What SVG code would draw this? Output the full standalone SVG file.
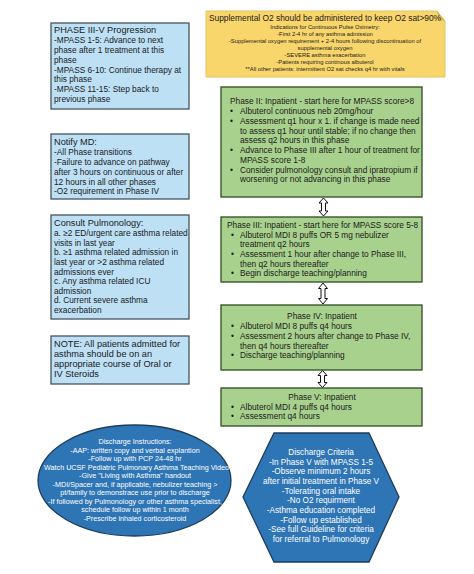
<svg xmlns="http://www.w3.org/2000/svg" width="474" height="574" viewBox="0 0 474 574">
<style>
text{font-family:"Liberation Sans",Arial,sans-serif;fill:#1a1a1a}
.lb{fill:#BDE0F5;stroke:#46555f;stroke-width:1.3}
.gb{fill:#A9D18E;stroke:#2f4a22;stroke-width:1.3}
.t9{font-size:9.2px}
.t8{font-size:8.3px}
.ty{font-size:5.8px;text-anchor:middle}
.w{fill:#ffffff;text-anchor:middle}
.c{text-anchor:middle}
.arr{fill:#ffffff;stroke:#111;stroke-width:1}
</style>
<rect width="474" height="574" fill="#ffffff"/>

<g id="progression">
<rect class="lb" x="51" y="23" width="138" height="86"/>
<text class="t9" x="54" y="33">PHASE III-V Progression</text>
<text class="t8" x="54" y="43">-MPASS 1-5: Advance to next</text>
<text class="t8" x="54" y="53">phase after 1 treatment at this</text>
<text class="t8" x="54" y="62.5">phase</text>
<text class="t8" x="54" y="72.5">-MPASS 6-10: Continue therapy at</text>
<text class="t8" x="54" y="82">this phase</text>
<text class="t8" x="54" y="92">-MPASS 11-15: Step back to</text>
<text class="t8" x="54" y="101.5">previous phase</text>
</g>

<g id="notify">
<rect class="lb" x="51" y="134" width="138" height="65"/>
<text class="t9" x="54" y="145">Notify MD:</text>
<text class="t8" x="54" y="155">-All Phase transitions</text>
<text class="t8" x="54" y="165">-Failure to advance on pathway</text>
<text class="t8" x="54" y="174.5">after 3 hours on continuous or after</text>
<text class="t8" x="54" y="184.5">12 hours in all other phases</text>
<text class="t8" x="54" y="194">-O2 requirement in Phase IV</text>
</g>

<g id="consult">
<rect class="lb" x="51" y="215" width="138" height="104"/>
<text class="t9" x="54" y="226">Consult Pulmonology:</text>
<text class="t8" x="54" y="236">a. ≥2 ED/urgent care asthma related</text>
<text class="t8" x="54" y="245.5">visits in last year</text>
<text class="t8" x="54" y="255">b. ≥1 asthma related admission in</text>
<text class="t8" x="54" y="265">last year or &gt;2 asthma related</text>
<text class="t8" x="54" y="274.5">admissions ever</text>
<text class="t8" x="54" y="284">c. Any asthma related ICU</text>
<text class="t8" x="54" y="293.5">admission</text>
<text class="t8" x="54" y="303">d. Current severe asthma</text>
<text class="t8" x="54" y="312.5">exacerbation</text>
</g>

<g id="note">
<rect class="lb" x="51" y="336" width="138" height="48"/>
<text class="t9" x="54" y="347">NOTE: All patients admitted for</text>
<text class="t9" x="54" y="357">asthma should be on an</text>
<text class="t9" x="54" y="367">appropriate course of Oral or</text>
<text class="t9" x="54" y="377">IV Steroids</text>
</g>

<g id="oxygen">
<path d="M206,11 H437 L445,21 V77 H206 Z" fill="#F9D66C" stroke="#E6C45E" stroke-width="1"/>
<path d="M437,11 L439,20 L445,21 Z" fill="#D9B550"/>
<text x="325" y="21" font-size="8.4px" class="c">Supplemental O2 should be administered to keep O2 sat&gt;90%</text>
<text class="ty" x="325" y="28.5">Indications for Continuous Pulse Oximetry:</text>
<text class="ty" x="325" y="35.5">-First 2-4 hr of any asthma admission</text>
<text class="ty" x="325" y="42.5">-Supplemental oxygen requirement + 2-4 hours following discontinuation of</text>
<text class="ty" x="325" y="49.5">supplemental oxygen</text>
<text class="ty" x="325" y="56.5">-SEVERE asthma exacerbation</text>
<text class="ty" x="325" y="63.5">-Patients requiring continous albuterol</text>
<text class="ty" x="325" y="70.5">**All other patients: intermittent O2 sat checks q4 hr with vitals</text>
</g>

<g id="phase2">
<rect class="gb" x="221" y="87" width="201" height="110"/>
<text class="t8" x="230" y="104">Phase II: Inpatient - start here for MPASS score&gt;8</text>
<text class="t8" x="230" y="114">•</text><text class="t8" x="240" y="114">Albuterol continuous neb 20mg/hour</text>
<text class="t8" x="230" y="124">•</text><text class="t8" x="240" y="124">Assessment q1 hour x 1. if change is made need</text>
<text class="t8" x="240" y="133.5">to assess q1 hour until stable; if no change then</text>
<text class="t8" x="240" y="143">assess q2 hours in this phase</text>
<text class="t8" x="230" y="153">•</text><text class="t8" x="240" y="153">Advance to Phase III after 1 hour of treatment for</text>
<text class="t8" x="240" y="162.5">MPASS score 1-8</text>
<text class="t8" x="230" y="172.5">•</text><text class="t8" x="240" y="172.5">Consider pulmonology consult and ipratropium if</text>
<text class="t8" x="240" y="182">worsening or not advancing in this phase</text>
</g>

<g id="phase3">
<rect class="gb" x="221" y="217" width="201" height="65"/>
<text class="t8" x="227" y="228">Phase III: Inpatient - start here for MPASS score 5-8</text>
<text class="t8" x="231" y="237.5">•</text><text class="t8" x="240" y="237.5">Albuterol MDI 8 puffs OR 5 mg nebulizer</text>
<text class="t8" x="240" y="247">treatment q2 hours</text>
<text class="t8" x="231" y="257">•</text><text class="t8" x="240" y="257">Assessment 1 hour after change to Phase III,</text>
<text class="t8" x="240" y="266.5">then q2 hours thereafter</text>
<text class="t8" x="231" y="276">•</text><text class="t8" x="240" y="276">Begin discharge teaching/planning</text>
</g>

<g id="phase4">
<rect class="gb" x="221" y="305" width="201" height="65"/>
<text class="t8 c" x="322" y="319">Phase IV: Inpatient</text>
<text class="t8" x="231" y="329">•</text><text class="t8" x="240" y="329">Albuterol MDI 8 puffs q4 hours</text>
<text class="t8" x="231" y="339">•</text><text class="t8" x="240" y="339">Assessment 2 hours after change to Phase IV,</text>
<text class="t8" x="240" y="348.5">then q4 hours thereafter</text>
<text class="t8" x="231" y="358">•</text><text class="t8" x="240" y="358">Discharge teaching/planning</text>
</g>

<g id="phase5">
<rect class="gb" x="221" y="388" width="201" height="38"/>
<text class="t8 c" x="322" y="399.5">Phase V: Inpatient</text>
<text class="t8" x="231" y="409.5">•</text><text class="t8" x="240" y="409.5">Albuterol MDI 4 puffs q4 hours</text>
<text class="t8" x="231" y="419">•</text><text class="t8" x="240" y="419">Assessment q4 hours</text>
</g>

<g id="discharge-instructions">
<ellipse cx="134.5" cy="480.5" rx="96.5" ry="55.5" fill="#2E75B6" stroke="#1e3d5c" stroke-width="1.3"/>
<g font-size="7.2px">
<text class="w" x="135" y="444">Discharge Instructions:</text>
<text class="w" x="135" y="452.5">-AAP: written copy and verbal explantion</text>
<text class="w" x="135" y="461">-Follow up with PCP 24-48 hr</text>
<text class="w" x="136.5" y="469.5">Watch UCSF Pediatric Pulmonary Asthma Teaching Video</text>
<text class="w" x="135" y="478">-Give "Living with Asthma" handout</text>
<text class="w" x="135" y="486.5">-MDI/Spacer and, if applicable, nebulizer teaching &gt;</text>
<text class="w" x="135" y="495">pt/family to demonstrace use prior to discharge</text>
<text class="w" x="135" y="503.5">-If followed by Pulmonology or other asthma specialist,</text>
<text class="w" x="135" y="512">schedule follow up within 1 month</text>
<text class="w" x="135" y="520.5">-Prescribe inhaled corticosteroid</text>
</g>
</g>

<g id="discharge-criteria">
<polygon points="274,433 369,433 399,497 369,562 274,562 243,497" fill="#2E75B6" stroke="#1e3d5c" stroke-width="1.3"/>
<g font-size="8.2px">
<text class="w" x="321" y="455">Discharge Criteria</text>
<text class="w" x="321" y="464.5">-In Phase V with MPASS 1-5</text>
<text class="w" x="321" y="474">-Observe minimum 2 hours</text>
<text class="w" x="321" y="484">after initial treatment in Phase V</text>
<text class="w" x="321" y="493.5">-Tolerating oral intake</text>
<text class="w" x="321" y="503">-No O2 requirment</text>
<text class="w" x="321" y="513">-Asthma education completed</text>
<text class="w" x="321" y="522.5">-Follow up established</text>
<text class="w" x="321" y="532">-See full Guideline for criteria</text>
<text class="w" x="321" y="542">for referral to Pulmonology</text>
</g>
</g>

<g id="connectors">
<path class="arr" d="M323.5,198 L328,203 L325.5,203 L325.5,211 L328,211 L323.5,216 L319,211 L321.5,211 L321.5,203 L319,203 Z"/>
<path class="arr" d="M323,283 L327.5,288.5 L325,288.5 L325,298.5 L327.5,298.5 L323,304 L318.5,298.5 L321,298.5 L321,288.5 L318.5,288.5 Z"/>
<path class="arr" d="M322.5,370.5 L327,375.5 L324.5,375.5 L324.5,382.5 L327,382.5 L322.5,387.5 L318,382.5 L320.5,382.5 L320.5,375.5 L318,375.5 Z"/>
</g>
</svg>
